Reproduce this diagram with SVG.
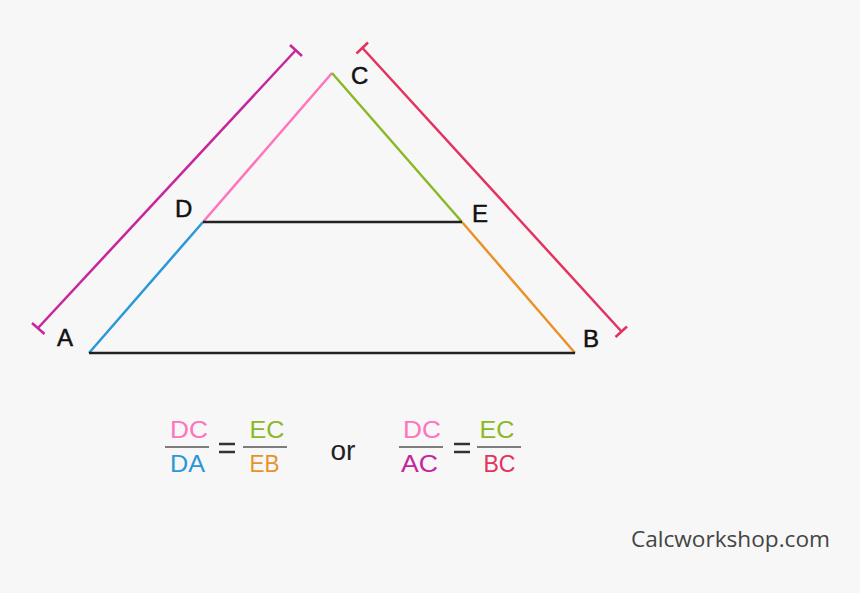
<svg xmlns="http://www.w3.org/2000/svg" width="860" height="593" viewBox="0 0 860 593">
<style>
.seg{stroke-width:2.5;fill:none;stroke-linecap:butt}
.lbl{font-family:"Liberation Sans",Arial,sans-serif;font-size:24px;fill:#111;stroke:#111;stroke-width:0.5}
.frac{font-family:"Liberation Sans",Arial,sans-serif;font-size:24px;text-anchor:middle}
.bar{stroke:#555;stroke-width:1.5}
.pink{fill:#ff74bc}.blue{fill:#2a98d8}.green{fill:#8bb826}.orange{fill:#e8932a}.mag{fill:#c6259c}.red{fill:#e3325f}
.eq{stroke:#333;stroke-width:2.5}
.or{font-family:"Liberation Sans",Arial,sans-serif;font-size:28px;text-anchor:middle;fill:#222}
</style>
<rect width="860" height="593" fill="#f7f7f7"/>
<g id="connectors">
  <line class="seg" x1="332" y1="73" x2="203" y2="222" stroke="#ff74bc"/>
  <line class="seg" x1="203" y1="222" x2="89" y2="353" stroke="#2a98d8"/>
  <line class="seg" x1="332" y1="73" x2="462" y2="222" stroke="#8bb826"/>
  <line class="seg" x1="462" y1="222" x2="575" y2="353" stroke="#e8932a"/>
  <line class="seg" x1="203" y1="222" x2="462" y2="222" stroke="#222"/>
  <line class="seg" x1="89" y1="353" x2="575" y2="353" stroke="#222"/>
  <g stroke="#c6259c" class="seg">
    <line x1="295.5" y1="50.5" x2="38.5" y2="327.5"/>
    <line x1="290" y1="45" x2="302" y2="56"/>
    <line x1="32" y1="323" x2="44.5" y2="334"/>
  </g>
  <g stroke="#e3325f" class="seg">
    <line x1="362.5" y1="48" x2="621.5" y2="331.5"/>
    <line x1="356.5" y1="53.5" x2="368" y2="42.5"/>
    <line x1="615.5" y1="337" x2="627" y2="326.5"/>
  </g>
</g>
<g id="C"><text class="lbl" x="351" y="84">C</text></g>
<g id="D"><text class="lbl" x="175" y="217">D</text></g>
<g id="E"><text class="lbl" x="472" y="222">E</text></g>
<g id="A"><text class="lbl" x="57" y="346">A</text></g>
<g id="B"><text class="lbl" x="583" y="347">B</text></g>
<g id="formula1">
  <text class="frac pink" x="189" y="438" textLength="38" lengthAdjust="spacingAndGlyphs">DC</text>
  <line class="bar" x1="165" y1="447" x2="209" y2="447"/>
  <text class="frac blue" x="187.5" y="472" textLength="35" lengthAdjust="spacingAndGlyphs">DA</text>
  <line class="eq" x1="219" y1="444" x2="235" y2="444"/>
  <line class="eq" x1="219" y1="452" x2="235" y2="452"/>
  <text class="frac green" x="267" y="438" textLength="35" lengthAdjust="spacingAndGlyphs">EC</text>
  <line class="bar" x1="243" y1="447" x2="287" y2="447"/>
  <text class="frac orange" x="264.5" y="472" textLength="30" lengthAdjust="spacingAndGlyphs">EB</text>
</g>
<g id="or"><text class="or" x="343" y="460">or</text></g>
<g id="formula2">
  <text class="frac pink" x="422" y="438" textLength="38" lengthAdjust="spacingAndGlyphs">DC</text>
  <line class="bar" x1="399" y1="447" x2="443" y2="447"/>
  <text class="frac mag" x="419.5" y="472" textLength="37" lengthAdjust="spacingAndGlyphs">AC</text>
  <line class="eq" x1="454" y1="444" x2="470" y2="444"/>
  <line class="eq" x1="454" y1="452" x2="470" y2="452"/>
  <text class="frac green" x="497" y="438" textLength="35" lengthAdjust="spacingAndGlyphs">EC</text>
  <line class="bar" x1="477" y1="447" x2="521" y2="447"/>
  <text class="frac red" x="499.5" y="472" textLength="32" lengthAdjust="spacingAndGlyphs">BC</text>
</g>
<g id="credit"><text x="631" y="547" font-family="'Open Sans',sans-serif" font-size="22" fill="#444" textLength="199" lengthAdjust="spacingAndGlyphs">Calcworkshop.com</text></g>
</svg>
